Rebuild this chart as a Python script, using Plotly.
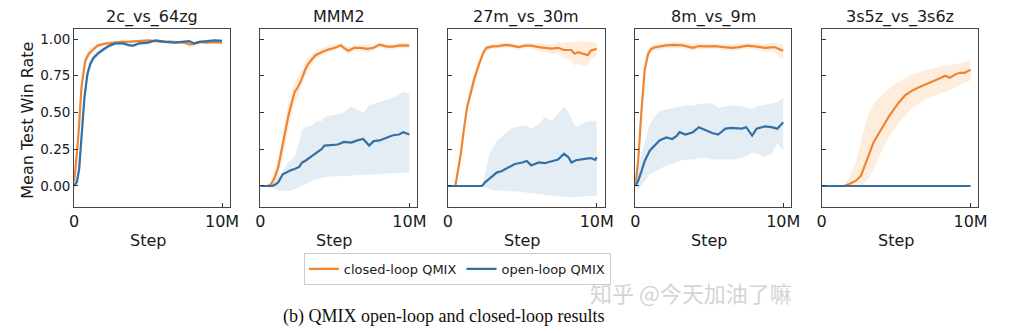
import plotly.graph_objects as go

# ---------------- data (steps in millions) ----------------
titles = ["2c_vs_64zg", "MMM2", "27m_vs_30m", "8m_vs_9m", "3s5z_vs_3s6z"]
series_names = ["closed-loop QMIX", "open-loop QMIX"]
y_tick_vals = [0, 0.25, 0.5, 0.75, 1.0]
y_tick_text = ["0.00", "0.25", "0.50", "0.75", "1.00"]
x_tick_vals = [0, 10]
x_tick_text = ["0", "10M"]

# panel 1: 2c_vs_64zg
p1_closed_x = [0, 0.1, 0.3, 0.5, 0.75, 1.0, 1.2, 1.6, 2.1, 2.6, 3.2, 3.8, 4.3, 5.0, 5.5, 6.0, 6.5, 7.0, 7.5, 7.8, 8.1, 8.5, 9.0, 9.5, 10.0]
p1_closed_y = [0.03, 0.12, 0.35, 0.67, 0.85, 0.90, 0.92, 0.955, 0.968, 0.975, 0.98, 0.982, 0.985, 0.99, 0.985, 0.98, 0.982, 0.978, 0.975, 0.963, 0.966, 0.98, 0.975, 0.978, 0.975]
p1_closed_hi = [0.06, 0.17, 0.42, 0.73, 0.89, 0.93, 0.945, 0.97, 0.98, 0.985, 0.99, 0.99, 0.993, 0.997, 0.993, 0.99, 0.99, 0.988, 0.985, 0.98, 0.98, 0.99, 0.985, 0.988, 0.985]
p1_closed_lo = [0.0, 0.07, 0.28, 0.61, 0.81, 0.87, 0.895, 0.94, 0.955, 0.965, 0.97, 0.974, 0.977, 0.983, 0.977, 0.97, 0.974, 0.968, 0.963, 0.94, 0.948, 0.97, 0.965, 0.968, 0.965]
p1_open_x = [0, 0.2, 0.35, 0.5, 0.7, 0.9, 1.1, 1.3, 1.6, 2.0, 2.4, 2.8, 3.3, 3.7, 4.0, 4.4, 5.0, 5.5, 5.8, 6.2, 6.8, 7.3, 7.8, 8.1, 8.5, 9.0, 9.5, 10.0]
p1_open_y = [0.0, 0.03, 0.12, 0.33, 0.6, 0.76, 0.83, 0.87, 0.9, 0.93, 0.955, 0.97, 0.97, 0.958, 0.955, 0.97, 0.975, 0.99, 0.985, 0.98, 0.975, 0.98, 0.985, 0.97, 0.98, 0.985, 0.99, 0.988]
p1_open_hi = [0.02, 0.07, 0.19, 0.41, 0.67, 0.81, 0.86, 0.895, 0.92, 0.945, 0.967, 0.98, 0.98, 0.97, 0.967, 0.98, 0.985, 0.997, 0.993, 0.99, 0.985, 0.99, 0.993, 0.98, 0.99, 0.993, 0.997, 0.995]
p1_open_lo = [-0.02, 0.0, 0.06, 0.26, 0.53, 0.71, 0.8, 0.845, 0.88, 0.915, 0.943, 0.96, 0.96, 0.946, 0.943, 0.96, 0.965, 0.983, 0.977, 0.97, 0.965, 0.97, 0.977, 0.96, 0.97, 0.977, 0.983, 0.98]

# panel 2: MMM2
p2_closed_x = [0, 0.5, 0.7, 0.97, 1.2, 1.4, 1.64, 1.86, 2.08, 2.3, 2.5, 2.74, 3.0, 3.2, 3.4, 3.7, 4.1, 4.5, 5.0, 5.4, 5.6, 5.9, 6.3, 6.7, 7.2, 7.6, 8.0, 8.5, 8.9, 9.4, 10.0]
p2_closed_y = [0, 0.0, 0.01, 0.06, 0.13, 0.24, 0.35, 0.47, 0.56, 0.64, 0.67, 0.72, 0.79, 0.83, 0.855, 0.89, 0.91, 0.927, 0.94, 0.957, 0.94, 0.92, 0.94, 0.94, 0.933, 0.94, 0.962, 0.948, 0.948, 0.957, 0.955]
p2_closed_hi = [0, 0.01, 0.03, 0.11, 0.2, 0.32, 0.44, 0.56, 0.64, 0.71, 0.74, 0.78, 0.84, 0.87, 0.89, 0.92, 0.935, 0.95, 0.96, 0.975, 0.96, 0.945, 0.96, 0.96, 0.955, 0.96, 0.978, 0.968, 0.968, 0.975, 0.975]
p2_closed_lo = [0, -0.01, -0.01, 0.02, 0.07, 0.16, 0.26, 0.38, 0.48, 0.57, 0.6, 0.66, 0.74, 0.79, 0.82, 0.86, 0.885, 0.905, 0.92, 0.94, 0.92, 0.895, 0.92, 0.92, 0.91, 0.92, 0.945, 0.928, 0.928, 0.938, 0.935]
p2_open_x = [0, 0.8, 1.0, 1.2, 1.5, 1.86, 2.1, 2.3, 2.6, 2.8, 3.0, 3.4, 3.85, 4.1, 4.3, 4.7, 5.2, 5.6, 6.1, 6.5, 6.9, 7.3, 7.6, 8.0, 8.5, 8.9, 9.3, 9.6, 10.0]
p2_open_y = [0, 0.0, 0.01, 0.025, 0.08, 0.1, 0.11, 0.115, 0.13, 0.16, 0.17, 0.2, 0.23, 0.25, 0.275, 0.28, 0.282, 0.3, 0.295, 0.31, 0.32, 0.275, 0.305, 0.31, 0.33, 0.345, 0.35, 0.366, 0.35]
p2_open_hi = [0, 0.01, 0.04, 0.07, 0.1, 0.16, 0.18, 0.2, 0.3, 0.38, 0.4, 0.41, 0.445, 0.44, 0.47, 0.48, 0.49, 0.5, 0.54, 0.52, 0.5, 0.55, 0.56, 0.57, 0.59, 0.6, 0.62, 0.64, 0.63]
p2_open_lo = [0, -0.01, -0.02, -0.03, -0.03, -0.035, -0.03, -0.025, -0.01, 0.0, 0.01, 0.03, 0.05, 0.055, 0.06, 0.065, 0.07, 0.07, 0.07, 0.075, 0.08, 0.08, 0.08, 0.08, 0.085, 0.085, 0.09, 0.09, 0.09]

# panel 3: 27m_vs_30m
p3_closed_x = [0, 0.5, 0.64, 0.87, 1.1, 1.3, 1.53, 1.75, 2.1, 2.4, 2.6, 3.0, 3.4, 3.9, 4.3, 4.75, 5.2, 5.6, 6.1, 6.5, 7.0, 7.4, 7.8, 8.3, 8.5, 8.75, 9.2, 9.4, 9.6, 10.0]
p3_closed_y = [0, 0.0, 0.08, 0.22, 0.4, 0.54, 0.63, 0.72, 0.83, 0.91, 0.94, 0.95, 0.952, 0.96, 0.955, 0.945, 0.955, 0.955, 0.945, 0.94, 0.934, 0.94, 0.925, 0.925, 0.9, 0.91, 0.895, 0.89, 0.92, 0.934]
p3_closed_hi = [0, 0.01, 0.12, 0.27, 0.45, 0.58, 0.67, 0.76, 0.86, 0.93, 0.96, 0.967, 0.97, 0.977, 0.972, 0.965, 0.975, 0.975, 0.97, 0.968, 0.965, 0.975, 0.975, 0.98, 0.98, 0.985, 0.985, 0.98, 0.98, 0.975]
p3_closed_lo = [0, -0.01, 0.04, 0.17, 0.35, 0.5, 0.59, 0.68, 0.8, 0.89, 0.92, 0.933, 0.935, 0.943, 0.938, 0.925, 0.935, 0.935, 0.92, 0.912, 0.9, 0.9, 0.87, 0.85, 0.82, 0.83, 0.815, 0.82, 0.86, 0.89]
p3_open_x = [0, 2.3, 2.5, 2.8, 3.0, 3.3, 3.6, 4.1, 4.5, 5.0, 5.3, 5.6, 6.1, 6.5, 7.0, 7.4, 7.8, 8.1, 8.3, 8.6, 9.2, 9.6, 9.9, 10.0]
p3_open_y = [0, 0.0, 0.025, 0.05, 0.07, 0.093, 0.1, 0.127, 0.15, 0.16, 0.17, 0.14, 0.16, 0.155, 0.17, 0.18, 0.22, 0.195, 0.16, 0.175, 0.185, 0.19, 0.178, 0.195]
p3_open_hi = [0, 0.0, 0.08, 0.22, 0.26, 0.31, 0.33, 0.38, 0.4, 0.41, 0.41, 0.39, 0.42, 0.47, 0.44, 0.49, 0.54, 0.5, 0.46, 0.4, 0.43, 0.445, 0.44, 0.44]
p3_open_lo = [0, 0.0, -0.01, -0.02, -0.03, -0.03, -0.03, -0.035, -0.035, -0.04, -0.045, -0.05, -0.055, -0.06, -0.065, -0.07, -0.075, -0.077, -0.077, -0.075, -0.07, -0.068, -0.066, -0.066]

# panel 4: 8m_vs_9m
p4_closed_x = [0, 0.2, 0.42, 0.64, 0.87, 1.1, 1.4, 2.1, 2.6, 3.2, 3.9, 4.3, 4.8, 5.4, 6.0, 6.5, 7.0, 7.6, 8.2, 8.75, 9.4, 9.75, 10.0]
p4_closed_y = [0.0, 0.17, 0.51, 0.79, 0.9, 0.934, 0.945, 0.957, 0.96, 0.957, 0.94, 0.952, 0.95, 0.952, 0.945, 0.94, 0.945, 0.955, 0.948, 0.94, 0.945, 0.93, 0.92]
p4_closed_hi = [0.01, 0.22, 0.57, 0.84, 0.93, 0.958, 0.968, 0.978, 0.98, 0.978, 0.962, 0.972, 0.97, 0.972, 0.967, 0.962, 0.967, 0.975, 0.97, 0.965, 0.975, 0.97, 0.965]
p4_closed_lo = [-0.01, 0.12, 0.45, 0.74, 0.87, 0.91, 0.922, 0.936, 0.94, 0.936, 0.918, 0.932, 0.93, 0.932, 0.923, 0.918, 0.923, 0.935, 0.926, 0.915, 0.915, 0.875, 0.86]
p4_open_x = [0, 0.2, 0.42, 0.64, 0.98, 1.3, 1.64, 2.1, 2.5, 2.8, 3.0, 3.4, 3.9, 4.3, 4.75, 5.2, 5.6, 6.1, 6.5, 7.2, 7.5, 7.9, 8.2, 8.75, 9.2, 9.6, 10.0]
p4_open_y = [0.0, 0.036, 0.1, 0.17, 0.24, 0.275, 0.31, 0.33, 0.32, 0.34, 0.366, 0.35, 0.366, 0.4, 0.38, 0.36, 0.35, 0.39, 0.395, 0.39, 0.4, 0.343, 0.39, 0.405, 0.4, 0.39, 0.434]
p4_open_hi = [0.0, 0.12, 0.22, 0.3, 0.42, 0.47, 0.51, 0.52, 0.53, 0.54, 0.54, 0.55, 0.545, 0.56, 0.56, 0.565, 0.53, 0.54, 0.55, 0.54, 0.53, 0.52, 0.54, 0.55, 0.56, 0.57, 0.6]
p4_open_lo = [0.0, -0.02, 0.0, 0.03, 0.08, 0.1, 0.116, 0.14, 0.15, 0.16, 0.17, 0.18, 0.18, 0.19, 0.19, 0.18, 0.18, 0.18, 0.18, 0.19, 0.2, 0.23, 0.22, 0.2, 0.22, 0.29, 0.24]

# panel 5: 3s5z_vs_3s6z
p5_closed_x = [0, 1.5, 1.86, 2.3, 2.64, 2.87, 3.2, 3.5, 3.87, 4.2, 4.5, 4.87, 5.2, 5.6, 6.1, 6.5, 7.0, 7.4, 7.87, 8.3, 8.6, 9.0, 9.3, 9.6, 10.0]
p5_closed_y = [0, 0.0, 0.014, 0.036, 0.07, 0.127, 0.22, 0.3, 0.366, 0.42, 0.47, 0.525, 0.57, 0.616, 0.65, 0.67, 0.69, 0.71, 0.73, 0.75, 0.736, 0.76, 0.77, 0.77, 0.79]
p5_closed_hi = [0, 0.0, 0.06, 0.16, 0.3, 0.4, 0.5, 0.56, 0.6, 0.63, 0.66, 0.69, 0.71, 0.73, 0.76, 0.77, 0.79, 0.8, 0.81, 0.82, 0.82, 0.83, 0.84, 0.845, 0.855]
p5_closed_lo = [0, 0.0, 0.0, 0.0, 0.0, 0.02, 0.06, 0.12, 0.2, 0.27, 0.33, 0.38, 0.43, 0.48, 0.53, 0.56, 0.59, 0.61, 0.625, 0.64, 0.65, 0.67, 0.69, 0.7, 0.72]
p5_open_x = [0, 10.0]
p5_open_y = [0.0, 0.0]
p5_open_hi = [0.0, 0.0]
p5_open_lo = [0.0, 0.0]

panels = [
    ((p1_closed_x, p1_closed_y, p1_closed_lo, p1_closed_hi), (p1_open_x, p1_open_y, p1_open_lo, p1_open_hi)),
    ((p2_closed_x, p2_closed_y, p2_closed_lo, p2_closed_hi), (p2_open_x, p2_open_y, p2_open_lo, p2_open_hi)),
    ((p3_closed_x, p3_closed_y, p3_closed_lo, p3_closed_hi), (p3_open_x, p3_open_y, p3_open_lo, p3_open_hi)),
    ((p4_closed_x, p4_closed_y, p4_closed_lo, p4_closed_hi), (p4_open_x, p4_open_y, p4_open_lo, p4_open_hi)),
    ((p5_closed_x, p5_closed_y, p5_closed_lo, p5_closed_hi), (p5_open_x, p5_open_y, p5_open_lo, p5_open_hi)),
]

# ---------------- style ----------------
W, H = 1020, 333
ORANGE = "#ee8533"
BLUE = "#3370a5"
FILLS = ["rgba(247,140,55,0.17)", "rgba(54,116,169,0.13)"]
LINES = [ORANGE, BLUE]
FONT = "DejaVu Sans"
panel_px = [(70, 228), (259, 418), (449, 608), (639, 797), (828, 987)]
top_px, bot_px = 29, 207

fig = go.Figure()
layout = dict(
    width=W, height=H, margin=dict(l=0, r=0, t=0, b=0),
    paper_bgcolor="white", plot_bgcolor="white",
    font=dict(family=FONT, color="#1a1a1a"),
    showlegend=True,
    legend=dict(orientation="h", x=303 / W, y=1 - 253 / H, xanchor="left", yanchor="top",
                bordercolor="#cccccc", borderwidth=1, bgcolor="white",
                font=dict(size=13, family=FONT), itemwidth=30,
                tracegroupgap=0),
)
annotations = []

for i, (pdata, (l, r)) in enumerate(zip(panels, panel_px)):
    sfx = "" if i == 0 else str(i + 1)
    xa, ya = "x" + sfx, "y" + sfx
    for j, (sx, sy, slo, shi) in enumerate(pdata):
        fig.add_trace(go.Scatter(
            x=list(sx) + list(sx)[::-1], y=list(shi) + list(slo)[::-1],
            fill="toself", fillcolor=FILLS[j], line=dict(width=0), mode="lines",
            hoverinfo="skip", showlegend=False, xaxis=xa, yaxis=ya))
        fig.add_trace(go.Scatter(
            x=sx, y=sy, mode="lines", line=dict(color=LINES[j], width=2.2),
            name=series_names[j], legendgroup=series_names[j],
            showlegend=(i == 0), xaxis=xa, yaxis=ya))
    layout["xaxis" + sfx] = dict(
        domain=[l / W, r / W], anchor=ya, range=[0, 10.53],
        tickvals=x_tick_vals, ticktext=x_tick_text, ticks="inside", ticklen=4,
        tickcolor="#333", tickfont=dict(size=16, family=FONT, color="#1a1a1a"),
        showline=True, mirror=True, linecolor="#444", linewidth=1,
        showgrid=False, zeroline=False, fixedrange=True)
    layout["yaxis" + sfx] = dict(
        domain=[1 - bot_px / H, 1 - top_px / H], anchor=xa, range=[-0.143, 1.068],
        tickvals=y_tick_vals, ticktext=y_tick_text, ticks="inside", ticklen=4,
        tickcolor="#333", showticklabels=(i == 0),
        tickfont=dict(size=13.5, family=FONT, color="#1a1a1a"),
        showline=True, mirror=True, linecolor="#444", linewidth=1,
        showgrid=False, zeroline=False, fixedrange=True)
    cx = (l + r) / 2 / W
    annotations.append(dict(text=titles[i], x=cx, y=1 - 17 / H, xref="paper", yref="paper",
                            showarrow=False, xanchor="center", yanchor="middle",
                            font=dict(size=16, family=FONT, color="#1a1a1a")))
    annotations.append(dict(text="Step", x=(l + 75) / W, y=1 - 240 / H, xref="paper", yref="paper",
                            showarrow=False, xanchor="center", yanchor="middle",
                            font=dict(size=16, family=FONT, color="#1a1a1a")))

annotations.append(dict(text="Mean Test Win Rate", x=22 / W, y=1 - 120 / H, xref="paper", yref="paper",
                        showarrow=False, textangle=-90, xanchor="center", yanchor="middle",
                        font=dict(size=16, family=FONT, color="#1a1a1a")))
annotations.append(dict(text="(b) QMIX open-loop and closed-loop results", x=445 / W, y=1 - 316 / H,
                        xref="paper", yref="paper", showarrow=False, xanchor="center", yanchor="middle",
                        font=dict(size=18, family="Liberation Serif", color="#111")))
annotations.append(dict(text="知乎 @今天加油了嘛", x=696 / W, y=1 - 292 / H,
                        xref="paper", yref="paper", showarrow=False, xanchor="center", yanchor="middle",
                        font=dict(size=22, family="Noto Sans CJK SC", color="#d4d4d4")))
layout["annotations"] = annotations
fig.update_layout(**layout)
fig.write_html("out.html")
